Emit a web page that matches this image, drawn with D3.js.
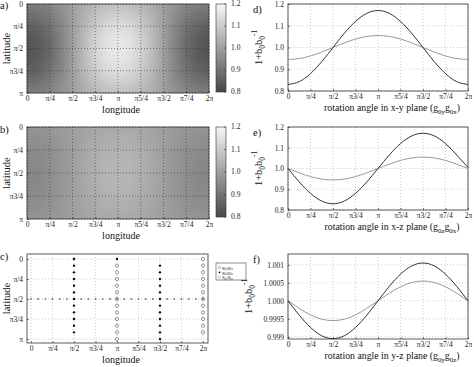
<!DOCTYPE html>
<html><head><meta charset="utf-8">
<script src="https://cdn.jsdelivr.net/npm/d3@7"></script>
<style>body{margin:0;background:#fff}svg{display:block;font-family:"Liberation Serif","Times New Roman",serif}svg text{font-family:"Liberation Serif","Times New Roman",serif}</style>
</head><body><script>
// ---------- data (angles in units of π) ----------
const angleSteps = [0,0.125,0.25,0.375,0.5,0.625,0.75,0.875,1,1.125,1.25,1.375,1.5,1.625,1.75,1.875,2];
const latSteps = [0,0.125,0.25,0.375,0.5,0.625,0.75,0.875,1];
const piTickVals = [0,0.25,0.5,0.75,1,1.25,1.5,1.75,2];
const piTickLabels = ["0","π/4","π/2","π3/4","π","π5/4","π3/2","π7/4","2π"];
const latTickVals = [0,0.25,0.5,0.75,1];
const latTickLabels = ["0","π/4","π/2","π3/4","π"];
const cbTicks = [0.8,0.9,1.0,1.1,1.2];
const cbLabels = ["0.8","0.9","1.0","1.1","1.2"];
const lineTicks = [0.8,0.9,1.0,1.1,1.2];
const lineTickLabels = ["0.8","0.9","1.0","1.1","1.2"];
const fTicks = [0.999,0.9995,1.000,1.0005,1.001];
const fTickLabels = ["0.999","0.9995","1.000","1.0005","1.001"];

// heatmap a (rows: latitude 0..π, cols: longitude 0..2π)
const heatA = [
 [0.923,0.929,0.946,0.971,1.000,1.029,1.054,1.071,1.077,1.071,1.054,1.029,1.000,0.971,0.946,0.929,0.923],
 [0.888,0.897,0.921,0.957,1.000,1.043,1.079,1.103,1.112,1.103,1.079,1.043,1.000,0.957,0.921,0.897,0.888],
 [0.857,0.868,0.899,0.945,1.000,1.055,1.101,1.132,1.143,1.132,1.101,1.055,1.000,0.945,0.899,0.868,0.857],
 [0.837,0.849,0.885,0.938,1.000,1.062,1.115,1.151,1.163,1.151,1.115,1.062,1.000,0.938,0.885,0.849,0.837],
 [0.830,0.843,0.880,0.935,1.000,1.065,1.120,1.157,1.170,1.157,1.120,1.065,1.000,0.935,0.880,0.843,0.830],
 [0.837,0.849,0.885,0.938,1.000,1.062,1.115,1.151,1.163,1.151,1.115,1.062,1.000,0.938,0.885,0.849,0.837],
 [0.857,0.868,0.899,0.945,1.000,1.055,1.101,1.132,1.143,1.132,1.101,1.055,1.000,0.945,0.899,0.868,0.857],
 [0.888,0.897,0.921,0.957,1.000,1.043,1.079,1.103,1.112,1.103,1.079,1.043,1.000,0.957,0.921,0.897,0.888],
 [0.923,0.929,0.946,0.971,1.000,1.029,1.054,1.071,1.077,1.071,1.054,1.029,1.000,0.971,0.946,0.929,0.923]
];
// heatmap b
const heatB = [
 [0.975,0.977,0.982,0.990,1.000,1.010,1.018,1.023,1.025,1.023,1.018,1.010,1.000,0.990,0.982,0.977,0.975],
 [0.964,0.967,0.975,0.986,1.000,1.014,1.025,1.033,1.036,1.033,1.025,1.014,1.000,0.986,0.975,0.967,0.964],
 [0.954,0.957,0.967,0.982,1.000,1.018,1.033,1.043,1.046,1.043,1.033,1.018,1.000,0.982,0.967,0.957,0.954],
 [0.947,0.951,0.963,0.980,1.000,1.020,1.037,1.049,1.053,1.049,1.037,1.020,1.000,0.980,0.963,0.951,0.947],
 [0.945,0.949,0.961,0.979,1.000,1.021,1.039,1.051,1.055,1.051,1.039,1.021,1.000,0.979,0.961,0.949,0.945],
 [0.947,0.951,0.963,0.980,1.000,1.020,1.037,1.049,1.053,1.049,1.037,1.020,1.000,0.980,0.963,0.951,0.947],
 [0.954,0.957,0.967,0.982,1.000,1.018,1.033,1.043,1.046,1.043,1.033,1.018,1.000,0.982,0.967,0.957,0.954],
 [0.964,0.967,0.975,0.986,1.000,1.014,1.025,1.033,1.036,1.033,1.025,1.014,1.000,0.986,0.975,0.967,0.964],
 [0.975,0.977,0.982,0.990,1.000,1.010,1.018,1.023,1.025,1.023,1.018,1.010,1.000,0.990,0.982,0.977,0.975]
];

// scatter c (units of π/12)
const xyLon = [0,1,2,3,4,5,6,7,8,9,10,11,12,13,14,15,16,17,18,19,20,21,22,23,24];
const xyLat = [6,6,6,6,6,6,6,6,6,6,6,6,6,6,6,6,6,6,6,6,6,6,6,6,6];
const yzLon = [6,6,6,6,6,6,6,6,6,6,6,6,18,18,18,18,18,18,18,18,18,18,18,18,12];
const yzLat = [0,1,2,3,4,5,6,7,8,9,10,11,1,2,3,4,5,6,7,8,9,10,11,12,0];
const xzLon = [12,12,12,12,12,12,12,12,12,12,12,12,24,24,24,24,24,24,24,24,24,24,24,24];
const xzLat = [1,2,3,4,5,6,7,8,9,10,11,12,0,1,2,3,4,5,6,7,8,9,10,11];
const cTickX = [0,3,6,9,12,15,18,21,24];
const cTickY = [0,3,6,9,12];

// line panels
const dDark  = [0.830,0.843,0.880,0.935,1.000,1.065,1.120,1.157,1.170,1.157,1.120,1.065,1.000,0.935,0.880,0.843,0.830];
const dLight = [0.945,0.949,0.961,0.979,1.000,1.021,1.039,1.051,1.055,1.051,1.039,1.021,1.000,0.979,0.961,0.949,0.945];
const eDark  = [1.000,0.935,0.880,0.843,0.830,0.843,0.880,0.935,1.000,1.065,1.120,1.157,1.170,1.157,1.120,1.065,1.005];
const eLight = [1.000,0.979,0.961,0.949,0.945,0.949,0.961,0.979,1.000,1.021,1.039,1.051,1.055,1.051,1.039,1.021,1.000];
const fDark  = [1.0000,0.99960,0.99926,0.99903,0.99895,0.99903,0.99926,0.99960,1.0000,1.00040,1.00074,1.00097,1.00105,1.00097,1.00074,1.00040,1.0000];
const fLight = [1.0000,0.99979,0.99961,0.99949,0.99945,0.99949,0.99961,0.99979,1.0000,1.00021,1.00039,1.00051,1.00055,1.00051,1.00039,1.00021,1.0000];

// ---------- drawing ----------
const W = 474, H = 367;
const svg = d3.select("body").append("svg").attr("width", W).attr("height", H);
const color = d3.scaleLinear().domain([0.8, 1.2]).range(["#474747", "#f7f7f7"]);
const TICKFS = 7.5, LABFS = 10.5;
const RX = 468;

function rich(sel, parts, fs) {
  let shift = 0;
  parts.forEach(p => {
    const target = p.sub ? fs * 0.3 : p.sup ? -fs * 0.45 : 0;
    sel.append("tspan").attr("dy", target - shift)
      .attr("font-size", (p.sub || p.sup) ? fs * 0.7 : fs).text(p.t);
    shift = target;
  });
}

function frame(x, y, xTicks, xLabels, yTicks, yLabels, gridColor) {
  const [x0, x1] = x.range();
  const y0 = Math.min(...y.range()), y1 = Math.max(...y.range());
  const g = svg.append("g");
  g.selectAll(null).data(xTicks).join("line")
    .attr("x1", d => x(d)).attr("x2", d => x(d)).attr("y1", y0).attr("y2", y1)
    .attr("stroke", gridColor).attr("stroke-width", 0.6).attr("stroke-dasharray", "1,2");
  g.selectAll(null).data(yTicks).join("line")
    .attr("y1", d => y(d)).attr("y2", d => y(d)).attr("x1", x0).attr("x2", x1)
    .attr("stroke", gridColor).attr("stroke-width", 0.6).attr("stroke-dasharray", "1,2");
  const ax = svg.append("g").attr("transform", `translate(0,${y1})`)
    .call(d3.axisBottom(x).tickValues(xTicks).tickFormat((d, i) => xLabels[i])
      .tickSizeInner(-2).tickSizeOuter(0).tickPadding(3));
  const ay = svg.append("g").attr("transform", `translate(${x0},0)`)
    .call(d3.axisLeft(y).tickValues(yTicks).tickFormat((d, i) => yLabels[i])
      .tickSizeInner(-2).tickSizeOuter(0).tickPadding(4));
  [ax, ay].forEach(a => {
    a.attr("font-family", null).attr("font-size", null);
    a.select(".domain").remove();
    a.selectAll("text").attr("font-size", TICKFS).attr("fill", "#222");
    a.selectAll("line").attr("stroke", "#333").attr("stroke-width", 0.6);
  });
  svg.append("rect").attr("x", x0).attr("y", y0).attr("width", x1 - x0).attr("height", y1 - y0)
    .attr("fill", "none").attr("stroke", "#333").attr("stroke-width", 0.8);
}

function axisTitles(top, bottom) {
  svg.append("text").attr("x", 121).attr("y", bottom + 20).attr("text-anchor", "middle")
    .attr("font-size", 10).attr("fill", "#111").text("longitude");
  svg.append("text").attr("transform", `translate(10,${(top + bottom) / 2}) rotate(-90)`)
    .attr("text-anchor", "middle").attr("font-size", LABFS).attr("fill", "#111").text("latitude");
}

function heatPanel(data, top, bottom, cbTop, cbBottom, id) {
  const x = d3.scaleLinear().domain([0, 2]).range([27, 209]);
  const y = d3.scaleLinear().domain([0, 1]).range([top, bottom]);
  const nr = data.length, nc = data[0].length;
  const cv = document.createElement("canvas");
  cv.width = nc; cv.height = nr;
  const ctx = cv.getContext("2d");
  const img = ctx.createImageData(nc, nr);
  data.forEach((row, r) => row.forEach((v, c) => {
    const col = d3.rgb(color(v)); const k = (r * nc + c) * 4;
    img.data[k] = col.r; img.data[k + 1] = col.g; img.data[k + 2] = col.b; img.data[k + 3] = 255;
  }));
  ctx.putImageData(img, 0, 0);
  const dx = x(angleSteps[1]) - x(angleSteps[0]);
  const dy = y(latSteps[1]) - y(latSteps[0]);
  svg.append("clipPath").attr("id", "clip" + id).append("rect")
    .attr("x", 27).attr("y", top).attr("width", 182).attr("height", bottom - top);
  svg.append("image").attr("href", cv.toDataURL())
    .attr("x", x(0) - dx / 2).attr("y", y(0) - dy / 2)
    .attr("width", nc * dx).attr("height", nr * dy)
    .attr("preserveAspectRatio", "none").attr("clip-path", `url(#clip${id})`);
  frame(x, y, piTickVals, piTickLabels, latTickVals, latTickLabels, "#3a3a3a");
  const grad = svg.append("defs").append("linearGradient").attr("id", "grad" + id)
    .attr("x1", 0).attr("y1", 1).attr("x2", 0).attr("y2", 0);
  cbTicks.forEach((t, i) => grad.append("stop").attr("offset", i / (cbTicks.length - 1)).attr("stop-color", color(t)));
  svg.append("rect").attr("x", 216).attr("y", cbTop).attr("width", 10).attr("height", cbBottom - cbTop)
    .attr("fill", `url(#grad${id})`).attr("stroke", "#333").attr("stroke-width", 0.6);
  const cy = d3.scaleLinear().domain([0.8, 1.2]).range([cbBottom, cbTop]);
  svg.append("g").selectAll("text").data(cbTicks).join("text")
    .attr("x", 231).attr("y", d => cy(d)).attr("dy", "0.32em")
    .attr("font-size", TICKFS).attr("fill", "#222").text((d, i) => cbLabels[i]);
  svg.append("g").selectAll("line").data(cbTicks).join("line")
    .attr("x1", 224).attr("x2", 226).attr("y1", d => cy(d)).attr("y2", d => cy(d))
    .attr("stroke", "#333").attr("stroke-width", 0.6);
  axisTitles(top, bottom);
}

heatPanel(heatA, 4, 93, 4, 92, "a");
heatPanel(heatB, 127, 219, 127, 217, "b");

// panel c
{
  const x = d3.scaleLinear().domain([-0.56, 24.7]).range([27, 208]);
  const y = d3.scaleLinear().domain([-0.75, 12.6]).range([254, 343]);
  frame(x, y, cTickX, piTickLabels, cTickY, latTickLabels, "#aaa");
  const g = svg.append("g");
  g.selectAll(null).data(xzLon).join("circle")
    .attr("cx", d => x(d)).attr("cy", (d, i) => y(xzLat[i])).attr("r", 1.6)
    .attr("fill", "#fff").attr("stroke", "#666").attr("stroke-width", 0.7);
  g.selectAll(null).data(xyLon).join("circle")
    .attr("cx", d => x(d)).attr("cy", (d, i) => y(xyLat[i])).attr("r", 0.9).attr("fill", "#777");
  g.selectAll(null).data(yzLon).join("circle")
    .attr("cx", d => x(d)).attr("cy", (d, i) => y(yzLat[i])).attr("r", 1.2).attr("fill", "#111");
  axisTitles(254, 343);
  svg.append("rect").attr("x", 216).attr("y", 263).attr("width", 30).attr("height", 17)
    .attr("fill", "#fff").attr("stroke", "#444").attr("stroke-width", 0.6);
  const leg = [
    {m: "open", s: ["0y", "0x"]},
    {m: "fill", s: ["0z", "0x"]},
    {m: "dot", s: ["0y", "0z"]}
  ];
  leg.forEach((e, i) => {
    const yy = 267.5 + i * 4.8;
    const c = svg.append("circle").attr("cx", 219.5).attr("cy", yy);
    if (e.m === "open") c.attr("r", 1.1).attr("fill", "#fff").attr("stroke", "#666").attr("stroke-width", 0.5);
    else if (e.m === "fill") c.attr("r", 0.9).attr("fill", "#111");
    else c.attr("r", 1.0).attr("fill", "#fff").attr("stroke", "#888").attr("stroke-width", 0.5);
    const t = svg.append("text").attr("x", 222).attr("y", yy + 1.3).attr("fill", "#333");
    rich(t, [{t: "g"}, {t: e.s[0], sub: true}, {t: "g"}, {t: e.s[1], sub: true}], 4.6);
  });
}

// line panels
function linePanel(top, bottom, dom, ticks, labels, dark, light, plane, subs, letter) {
  const x = d3.scaleLinear().domain([0, 2]).range([288, RX]);
  const y = d3.scaleLinear().domain(dom).range([bottom, top]);
  frame(x, y, piTickVals, piTickLabels, ticks, labels, "#aaa");
  const line = d3.line().x((d, i) => x(angleSteps[i])).y(d => y(d)).curve(d3.curveNatural);
  svg.append("path").datum(light).attr("d", line).attr("fill", "none").attr("stroke", "#9a9a9a").attr("stroke-width", 1);
  svg.append("path").datum(dark).attr("d", line).attr("fill", "none").attr("stroke", "#333").attr("stroke-width", 1);
  const t = svg.append("text").attr("x", 392).attr("y", bottom + 20).attr("text-anchor", "middle")
    .attr("font-size", 9.8).attr("fill", "#111");
  rich(t, [{t: `rotation angle in ${plane} plane (g`}, {t: subs[0], sub: true}, {t: "g"}, {t: subs[1], sub: true}, {t: ")"}], 9.8);
  const yl = svg.append("text").attr("transform", `translate(${letter === "f" ? 252 : 262},${(top + bottom) / 2}) rotate(-90)`)
    .attr("text-anchor", "middle").attr("font-size", LABFS).attr("fill", "#111");
  rich(yl, [{t: "1+b"}, {t: "0", sub: true}, {t: "b"}, {t: "0", sub: true}, {t: "-1", sup: true}], LABFS);
  svg.append("text").attr("x", 253).attr("y", top + 9).attr("font-size", LABFS).attr("fill", "#111").text(letter + ")");
}
linePanel(4, 91, [0.8, 1.2], lineTicks, lineTickLabels, dDark, dLight, "x-y", ["0y", "0x"], "d");
linePanel(127, 210, [0.8, 1.2], lineTicks, lineTickLabels, eDark, eLight, "x-z", ["0z", "0x"], "e");
linePanel(254, 339, [0.99894, 1.0013], fTicks, fTickLabels, fDark, fLight, "y-z", ["0y", "0z"], "f");

[["a)", 9], ["b)", 133], ["c)", 260]].forEach(([t, yy]) =>
  svg.append("text").attr("x", 0).attr("y", yy).attr("font-size", LABFS).attr("fill", "#111").text(t));
</script></body></html>
